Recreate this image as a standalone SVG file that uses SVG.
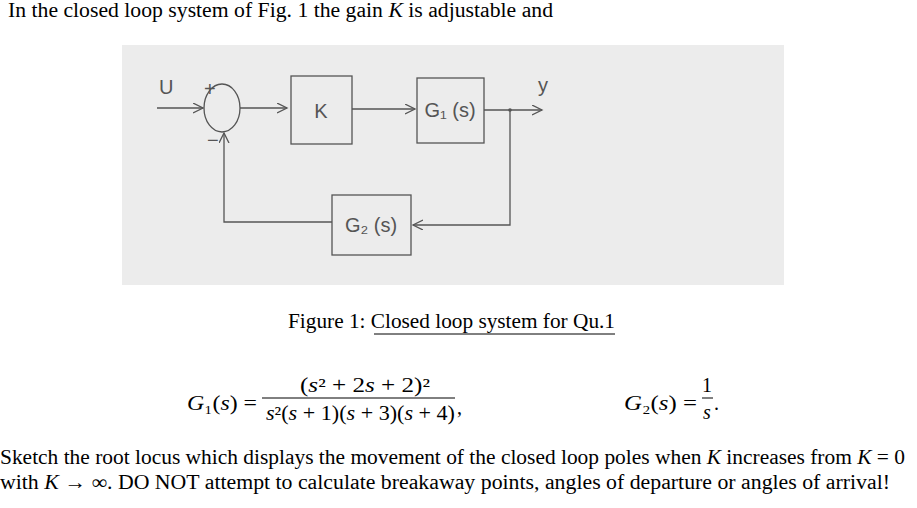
<svg xmlns="http://www.w3.org/2000/svg" width="917" height="508" viewBox="0 0 917 508">
<style>
.t{font-family:"Liberation Serif",serif;font-size:20px;fill:#000}
.i{font-style:italic}
.h{font-family:"Liberation Sans",sans-serif;font-size:20px;fill:#555}
.b{fill:none;stroke:#555;stroke-width:1.3}
.l{fill:none;stroke:#555;stroke-width:1.3}
</style>
<defs><marker id="a" markerWidth="12" markerHeight="12" refX="10" refY="5" orient="auto" markerUnits="userSpaceOnUse"><path d="M0,0 L10,5 L0,10" fill="none" stroke="#555" stroke-width="1.3"/></marker></defs>
<rect fill="#fff" width="917" height="508"/>
<text class="t" x="8" y="17" textLength="545" lengthAdjust="spacingAndGlyphs">In the closed loop system of Fig. 1 the gain <tspan class="i">K</tspan> is adjustable and</text>
<rect x="122" y="45" width="662" height="240" fill="#ececec"/>
<g id="sum"><ellipse class="b" cx="222" cy="108" rx="18" ry="24"/></g>
<g id="K"><rect class="b" x="291" y="76" width="61" height="68"/><text class="h" x="321" y="118" text-anchor="middle" font-size="24">K</text></g>
<g id="G1"><rect class="b" x="417" y="78" width="67" height="65"/><text class="h" x="450" y="117" text-anchor="middle">G₁ (s)</text></g>
<g id="G2"><rect class="b" x="332" y="195" width="79" height="60"/><text class="h" x="371" y="232" text-anchor="middle">G₂ (s)</text></g>
<g id="labels"><text class="h" x="159" y="94" font-size="22">U</text><text class="h" x="204" y="96">+</text><text class="h" x="538" y="92" font-size="22">y</text><text class="h" x="207" y="147">−</text></g>
<g id="connectors">
<path class="l" d="M157,108 H203" marker-end="url(#a)"/>
<path class="l" d="M240,108 H287" marker-end="url(#a)"/>
<path class="l" d="M352,109 H415" marker-end="url(#a)"/>
<path class="l" d="M484,110 H542" marker-end="url(#a)"/>
<path class="l" d="M510,110 V225 H413" marker-end="url(#a)"/>
<path class="l" d="M332,222 H224 V133" marker-end="url(#a)"/>
<circle cx="510" cy="110" r="1.8" fill="#555"/>
</g>
<text class="t" x="288" y="328" textLength="327" lengthAdjust="spacingAndGlyphs">Figure 1: Closed loop system for Qu.1</text>
<line x1="374" y1="334" x2="615" y2="334" stroke="#000" stroke-width="1"/>
<text class="t" x="187" y="410" textLength="70" lengthAdjust="spacingAndGlyphs"><tspan class="i">G</tspan>₁(<tspan class="i">s</tspan>) =</text>
<text class="t" x="300" y="392" textLength="130" lengthAdjust="spacingAndGlyphs">(<tspan class="i">s</tspan>² + 2<tspan class="i">s</tspan> + 2)²</text>
<line x1="262" y1="398" x2="455" y2="398" stroke="#000" stroke-width="1"/>
<text class="t" x="266" y="420" textLength="189" lengthAdjust="spacingAndGlyphs"><tspan class="i">s</tspan>²(<tspan class="i">s</tspan> + 1)(<tspan class="i">s</tspan> + 3)(<tspan class="i">s</tspan> + 4)</text>
<text class="t" x="457" y="414">,</text>
<text class="t" x="624" y="410" textLength="73" lengthAdjust="spacingAndGlyphs"><tspan class="i">G</tspan>₂(<tspan class="i">s</tspan>) =</text>
<text class="t" x="707" y="392" text-anchor="middle">1</text>
<line x1="702" y1="398" x2="713" y2="398" stroke="#000" stroke-width="1"/>
<text class="t i" x="707" y="419" text-anchor="middle">s</text>
<text class="t" x="714" y="410">.</text>
<text class="t" x="0" y="464" textLength="905" lengthAdjust="spacingAndGlyphs">Sketch the root locus which displays the movement of the closed loop poles when <tspan class="i">K</tspan> increases from <tspan class="i">K</tspan> = 0</text>
<text class="t" x="0" y="489" textLength="890" lengthAdjust="spacingAndGlyphs">with <tspan class="i">K</tspan> → ∞. DO NOT attempt to calculate breakaway points, angles of departure or angles of arrival!</text>
</svg>
